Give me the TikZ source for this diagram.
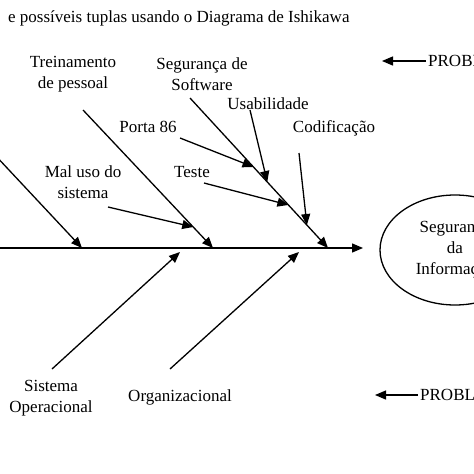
\documentclass[tikz,border=0pt]{standalone}
\usepackage{fontspec}
\setmainfont{Liberation Serif}
\usetikzlibrary{arrows.meta,shapes.geometric,calc}

\tikzset{
  bone/.style={line width=1.3pt,-{Triangle[length=11pt,width=9pt]}},
  lbl/.style={align=center,inner sep=0pt,font=\fontsize{17}{21}\selectfont},
}

\begin{document}
\begin{tikzpicture}[x=1pt,y=-1pt]
    \useasboundingbox (0,0) rectangle (474,474);
    \clip (0,0) rectangle (474,474);
    % heading
    \node[lbl,anchor=west] (title) at (8,18) {e possíveis tuplas usando o Diagrama de Ishikawa};
    % labels of the causes
    \node[lbl] (trein) at (73,74) {Treinamento\\de pessoal};
    \node[lbl] (softw) at (202,74) {Segurança de\\Software};
    \node[lbl] (usab) at (268,104) {Usabilidade};
    \node[lbl] (porta) at (148,127) {Porta 86};
    \node[lbl] (codif) at (334,128) {Codificação};
    \node[lbl] (teste) at (192,172) {Teste};
    \node[lbl] (maluso) at (83,182) {Mal uso do\\sistema};
    \node[lbl] (sisop) at (51,398) {Sistema\\Operacional};
    \node[lbl] (organ) at (180,397) {Organizacional};
    % effect
    \node[lbl,draw,ellipse,line width=1.3pt,minimum width=150pt,minimum height=110pt] (efeito) at (455,250) {Segurança\\da\\Informação};
    \node[lbl,anchor=west] (prob1) at (428,61) {PROBLEMA};
    \node[lbl,anchor=west] (prob2) at (420,395) {PROBLEMA};
    \coordinate (pa1) at (382,61);
    \coordinate (pa2) at (375,395);
    \draw[bone,shorten <=2pt] (prob1.west) -- (pa1);
    \draw[bone,shorten <=2pt] (prob2.west) -- (pa2);
    % spine
    \coordinate (sp0) at (0,248);
    \coordinate (sp1) at (363,248);
    \draw[bone] (sp0) -- (sp1);
    % main bones above
    \coordinate (b1a) at (-6,154);
    \coordinate (b1b) at (82,248);
    \coordinate (b2a) at (83,110);
    \coordinate (b2b) at (213,248);
    \coordinate (b3a) at (190,98);
    \coordinate (b3b) at (328,248);
    \draw[bone] (b1a) -- (b1b);
    \draw[bone] (b2a) -- (b2b);
    \draw[bone] (b3a) -- (b3b);
    % main bones below
    \coordinate (b4a) at (52,369);
    \coordinate (b4b) at (180,252);
    \coordinate (b5a) at (170,369);
    \coordinate (b5b) at (299,252);
    \draw[bone] (b4a) -- (b4b);
    \draw[bone] (b5a) -- (b5b);
    % small bones
    \coordinate (s1a) at (108,207);
    \coordinate (s1b) at ($(b2a)!0.848!(b2b)$);
    \coordinate (s2a) at (180,138);
    \coordinate (s2b) at ($(b3a)!0.46!(b3b)$);
    \coordinate (s3a) at (250,110);
    \coordinate (s3b) at ($(b3a)!0.56!(b3b)$);
    \coordinate (s4a) at (204,183);
    \coordinate (s4b) at ($(b3a)!0.713!(b3b)$);
    \coordinate (s5a) at (299,153);
    \coordinate (s5b) at ($(b3a)!0.847!(b3b)$);
    \draw[bone] (s1a) -- (s1b);
    \draw[bone] (s2a) -- (s2b);
    \draw[bone] (s3a) -- (s3b);
    \draw[bone] (s4a) -- (s4b);
    \draw[bone] (s5a) -- (s5b);
\end{tikzpicture}
\end{document}
